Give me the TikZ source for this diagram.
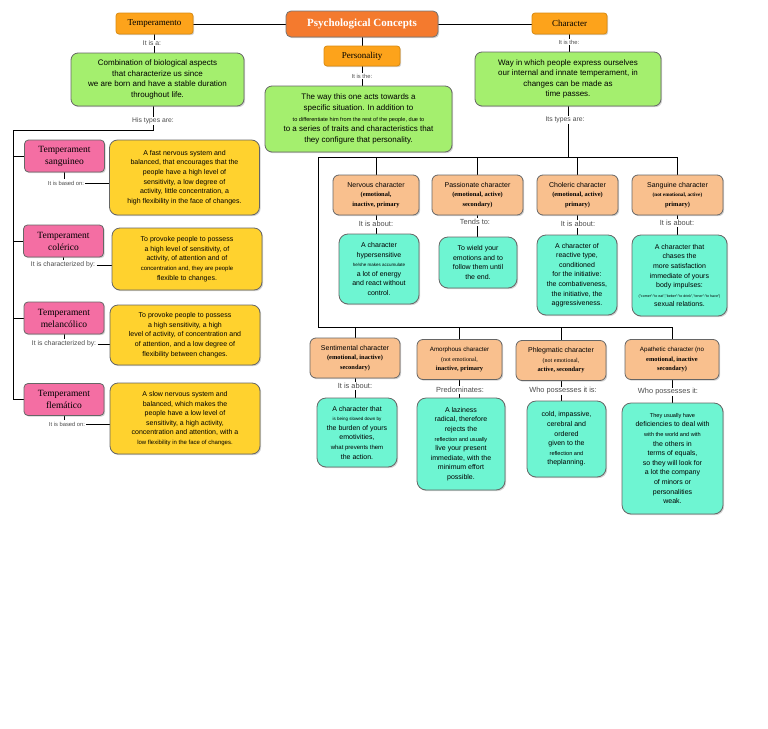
\documentclass[tikz,border=0pt]{standalone}
\usepackage{fontspec}
\setmainfont{Liberation Serif}
\setsansfont{Liberation Sans}
\usepackage{tikz}
\usetikzlibrary{shadows,backgrounds}
\definecolor{rootorange}{HTML}{F47A2E}
\definecolor{headorange}{HTML}{FDA31B}
\definecolor{headedge}{HTML}{D98A10}
\definecolor{defgreen}{HTML}{A4EF6E}
\definecolor{temppink}{HTML}{F46EA3}
\definecolor{descgold}{HTML}{FFD22E}
\definecolor{charpeach}{HTML}{F9C08E}
\definecolor{aboutaqua}{HTML}{6EF5D2}
\definecolor{boxedge}{HTML}{666666}
\newcommand\szdef{\fontsize{8}{10.6}\selectfont}
\newcommand\szbody{\fontsize{7}{9.6}\selectfont}
\newcommand\szsmall{\fontsize{5.6}{9.6}\selectfont}
\newcommand\sztiny{\fontsize{4.5}{9.6}\selectfont}
\newcommand\kind[1]{{\rmfamily\bfseries\fontsize{6.4}{9.6}\selectfont #1}}
\tikzset{
  concept-box/.style={rounded corners=5pt, draw=boxedge, line width=0.8pt, align=center,
    inner sep=2pt, outer sep=0pt,
    drop shadow={opacity=0.35, shadow xshift=1.2pt, shadow yshift=-1.2pt}},
  concept-root/.style={concept-box, fill=rootorange, draw=black!55, text=white,
    font=\bfseries\fontsize{11}{13}\selectfont},
  concept-head/.style={concept-box, rounded corners=3pt, fill=headorange, draw=headedge,
    font=\fontsize{9}{11}\selectfont},
  concept-def/.style={concept-box, rounded corners=7pt, fill=defgreen, font=\sffamily\szdef},
  concept-temp/.style={concept-box, rounded corners=4pt, fill=temppink,
    minimum width=80, minimum height=32, font=\fontsize{9.5}{12}\selectfont},
  concept-desc/.style={concept-box, rounded corners=8pt, fill=descgold, minimum width=150,
    font=\sffamily\szbody},
  concept-kind/.style={concept-box, rounded corners=6pt, fill=charpeach, minimum height=40,
    font=\sffamily\szbody},
  concept-about/.style={concept-box, rounded corners=9pt, fill=aboutaqua, font=\sffamily\szbody},
  concept-tag/.style={fill=white, inner sep=0.8pt, text=black!70,
    font=\sffamily\fontsize{6.8}{7.8}\selectfont},
  concept-tag-small/.style={concept-tag, font=\sffamily\fontsize{5.8}{6.8}\selectfont},
  concept-tag-large/.style={concept-tag, font=\sffamily\fontsize{7.4}{8.2}\selectfont}
}
\begin{document}
\begin{tikzpicture}[x=1pt, y=-1pt, line width=1.25pt]
  \useasboundingbox (0,0) rectangle (768,728);

  \node[concept-root, minimum width=152, minimum height=26] (root) at (362,24) {Psychological Concepts};
  \node[concept-head, minimum width=77, minimum height=21] (temp) at (154.5,23.5) {Temperamento};
  \node[concept-head, minimum width=75, minimum height=21] (char) at (569.5,23.5) {Character};
  \node[concept-head, minimum width=76, minimum height=20] (pers) at (362,56) {Personality};

  \node[concept-def, minimum width=173, minimum height=53] (temp-def) at (157.5,79.5)
    {Combination of biological aspects\\that characterize us since\\we are born and have a stable duration\\throughout life.};
  \node[concept-def, minimum width=187, minimum height=66] (pers-def) at (358.5,119)
    {The way this one acts towards a\\specific situation. In addition to\\{\szsmall to differentiate him from the rest of the people, due to}\\to a series of traits and characteristics that\\they configure that personality.};
  \node[concept-def, minimum width=186, minimum height=54] (char-def) at (568,79)
    {Way in which people express ourselves\\our internal and innate temperament, in\\changes can be made as\\time passes.};

  \node[concept-tag] (temp-isa) at (152,43) {It is a:};
  \node[concept-tag-small] (pers-isthe) at (362,76) {It is the:};
  \node[concept-tag-small] (char-isthe) at (569,42) {It is the:};
  \node[concept-tag] (temp-types) at (153,121) {His types are:};
  \node[concept-tag] (char-types) at (565,120) {Its types are:};

  \node[concept-temp] (t-sang) at (64.5,156) {Temperament\\sanguineo};
  \node[concept-temp] (t-col) at (63.5,241) {Temperament\\colérico};
  \node[concept-temp] (t-mel) at (64,318) {Temperament\\melancólico};
  \node[concept-temp] (t-flem) at (64,399.5) {Temperament\\flemático};

  \node[concept-tag-small] (t-sang-tag) at (66,183) {It is based on:};
  \node[concept-tag] (t-col-tag) at (63,265) {It is characterized by:};
  \node[concept-tag] (t-mel-tag) at (64,344) {It is characterized by:};
  \node[concept-tag-small] (t-flem-tag) at (67,424) {It is based on:};

  \node[concept-desc, minimum height=75] (t-sang-desc) at (184.5,177.5)
    {A fast nervous system and\\balanced, that encourages that the\\people have a high level of\\sensitivity, a low degree of\\activity, little concentration, a\\high flexibility in the face of changes.};
  \node[concept-desc, minimum height=62] (t-col-desc) at (187,259)
    {To provoke people to possess\\a high level of sensitivity, of\\activity, of attention and of\\{\fontsize{6}{9.6}\selectfont concentration and, they are people}\\flexible to changes.};
  \node[concept-desc, minimum height=60] (t-mel-desc) at (185,335)
    {To provoke people to possess\\a high sensitivity, a high\\level of activity, of concentration and\\of attention, and a low degree of\\flexibility between changes.};
  \node[concept-desc, minimum height=71] (t-flem-desc) at (185,418.5)
    {A slow nervous system and\\balanced, which makes the\\people have a low level of\\sensitivity, a high activity,\\concentration and attention, with a\\{\fontsize{6}{9.6}\selectfont low flexibility in the face of changes.}};

  \node[concept-kind, minimum width=86] (ch-nerv) at (376,195)
    {Nervous character\\\kind{(emotional,}\\\kind{inactive, primary}};
  \node[concept-kind, minimum width=91] (ch-pass) at (477.5,195)
    {Passionate character\\\kind{(emotional, active)}\\\kind{secondary)}};
  \node[concept-kind, minimum width=81] (ch-chol) at (577.5,195)
    {Choleric character\\\kind{(emotional, active)}\\\kind{primary)}};
  \node[concept-kind, minimum width=91] (ch-sang) at (677.5,195)
    {Sanguine character\\{\rmfamily\bfseries\fontsize{5.2}{9.6}\selectfont (not emotional, active)}\\\kind{primary)}};

  \node[concept-kind, minimum width=90] (ch-sent) at (355,358)
    {Sentimental character\\\kind{(emotional, inactive)}\\\kind{secondary)}};
  \node[concept-kind, minimum width=85] (ch-amor) at (459.5,359.5)
    {{\fontsize{6.2}{9.6}\selectfont Amorphous character}\\{\rmfamily\fontsize{6}{9.6}\selectfont (not emotional,}\\\kind{inactive, primary}};
  \node[concept-kind, minimum width=90] (ch-phleg) at (561,360.5)
    {Phlegmatic character\\{\rmfamily\fontsize{6}{9.6}\selectfont (not emotional,}\\\kind{active, secondary}};
  \node[concept-kind, minimum width=94] (ch-apat) at (672,359.5)
    {{\fontsize{6.2}{9.6}\selectfont Apathetic character (no}\\\kind{emotional, inactive}\\\kind{secondary)}};

  \node[concept-tag-large] (ch-nerv-tag) at (376,224) {It is about:};
  \node[concept-tag-large] (ch-pass-tag) at (475,222) {Tends to:};
  \node[concept-tag-large] (ch-chol-tag) at (578,224) {It is about:};
  \node[concept-tag-large] (ch-sang-tag) at (677,223) {It is about:};
  \node[concept-tag-large] (ch-sent-tag) at (355,386) {It is about:};
  \node[concept-tag-large] (ch-amor-tag) at (460,390) {Predominates:};
  \node[concept-tag-large] (ch-phleg-tag) at (563,391) {Who possesses it is:};
  \node[concept-tag-large] (ch-apat-tag) at (668,392) {Who possesses it:};

  \node[concept-about, minimum width=80, minimum height=70] (d-nerv) at (379,269)
    {A character\\hypersensitive\\{\sztiny he/she makes accumulate}\\a lot of energy\\and react without\\control.};
  \node[concept-about, minimum width=78, minimum height=51] (d-pass) at (478,262.5)
    {To wield your\\emotions and to\\follow them until\\the end.};
  \node[concept-about, minimum width=80, minimum height=80] (d-chol) at (577,275)
    {A character of\\reactive type,\\conditioned\\for the initiative:\\the combativeness,\\the initiative, the\\aggressiveness.};
  \node[concept-about, minimum width=95, minimum height=81] (d-sang) at (679.5,275.5)
    {A character that\\chases the\\more satisfaction\\immediate of yours\\body impulses:\\{\fontsize{3.6}{9.6}\selectfont ("comer":"to eat","beber":"to drink","tener":"to have")}\\sexual relations.};

  \node[concept-about, minimum width=80, minimum height=69] (d-sent) at (357,432.5)
    {A character that\\{\sztiny is being slowed down by}\\the burden of yours\\emotivities,\\{\fontsize{6}{9.6}\selectfont what prevents them}\\the action.};
  \node[concept-about, minimum width=88, minimum height=92] (d-amor) at (461,444)
    {A laziness\\radical, therefore\\rejects the\\{\szsmall reflection and usually}\\live your present\\immediate, with the\\minimum effort\\possible.};
  \node[concept-about, minimum width=79, minimum height=76] (d-phleg) at (566.5,439)
    {cold, impassive,\\cerebral and\\ordered\\given to the\\{\szsmall reflection and}\\theplanning.};
  \node[concept-about, minimum width=101, minimum height=111] (d-apat) at (672.5,458.5)
    {{\szsmall They usually have}\\deficiencies to deal with\\{\szsmall with the world and with}\\the others in\\terms of equals,\\so they will look for\\a lot the company\\of minors or\\personalities\\weak.};

  \coordinate (t-bus-top) at (13,130);
  \coordinate (t-bus-bot) at (13,399.5);
  \coordinate (c-bus-nw) at (318,157);
  \coordinate (c-bus-sw) at (318,327);

  \begin{scope}[on background layer]
    \draw (root.west) -- (root.west -| temp.east);
    \draw (root.east) -- (root.east -| char.west);
    \draw (root) -- (pers);
    \draw (temp) -- (temp |- temp-def.north);
    \draw (pers) -- (pers |- pers-def.north);
    \draw (char) -- (char |- char-def.north);
    \draw (temp-types |- temp-def.south) |- (t-bus-top) -- (t-bus-bot);
    \foreach \t in {sang,col,mel,flem} {
      \draw (t-bus-top |- t-\t.west) -- (t-\t.west);
      \draw (t-\t.south) -- (t-\t.south |- t-\t-tag.north);
      \draw (t-\t-tag.east) -- (t-\t-tag.east -| t-\t-desc.west);
    }
    \draw (char-def.south) -- (char-def.south |- c-bus-nw);
    \draw (c-bus-nw -| ch-sang) -- (c-bus-nw) -- (c-bus-sw) -- (c-bus-sw -| ch-apat);
    \foreach \c in {nerv,pass,chol,sang}
      \draw (c-bus-nw -| ch-\c) -- (ch-\c.north);
    \foreach \c in {sent,amor,phleg,apat}
      \draw (c-bus-sw -| ch-\c) -- (ch-\c.north);
    \foreach \c in {nerv,pass,chol,sang,sent,amor,phleg,apat}
      \draw (ch-\c.south) -- (ch-\c.south |- d-\c.north);
  \end{scope}
\end{tikzpicture}
\end{document}
